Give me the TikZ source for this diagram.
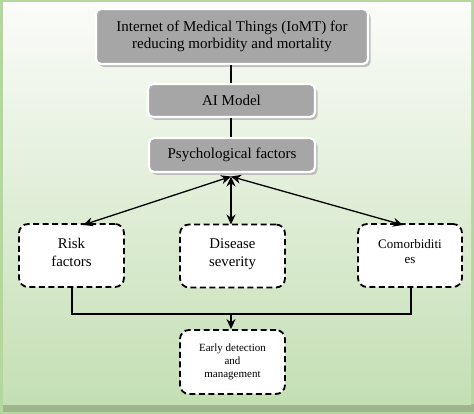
\documentclass[tikz,border=0pt]{standalone}
\usepackage{fontspec}
\setmainfont{Liberation Serif}
\usetikzlibrary{arrows.meta,shadows}
\definecolor{bordergreen}{HTML}{B4D79E}
\definecolor{paneltop}{HTML}{FBFCF9}
\definecolor{panelbot}{HTML}{C4DFB4}
\definecolor{shadowgreen}{HTML}{9DB48C}
\definecolor{boxgray}{HTML}{A6A6A6}
\definecolor{boxshadow}{HTML}{BDBDBD}
\tikzset{
  graybox/.style={draw=white, line width=2.2pt, fill=boxgray, rounded corners=5pt,
    align=center, font=\fontsize{15}{17}\selectfont, inner sep=0pt,
    drop shadow={shadow xshift=2.5pt, shadow yshift=-3pt, fill=boxshadow, opacity=1}},
  dashbox/.style={draw=black, line width=1.8pt, dash pattern=on 6pt off 3.5pt, fill=white,
    rounded corners=9pt, align=center, inner sep=0pt},
  link/.style={line width=1.3pt, draw=black},
  tip/.style={-{Stealth[length=10pt,width=9pt]}},
  dtip/.style={{Stealth[length=10pt,width=9pt]}-{Stealth[length=10pt,width=9pt]}}
}
\begin{document}
\begin{tikzpicture}[x=1pt,y=-1pt]
\useasboundingbox (0,0) rectangle (474,414);
% background
\fill[bordergreen] (0,0) rectangle (474,414);
\fill[shadowgreen] (3,404) rectangle (474,412);
\shade[top color=paneltop, bottom color=panelbot] (3,3) rectangle (471,404);
% gray boxes
\node[graybox, minimum width=272pt, minimum height=55pt] (iomt) at (232,36.5)
  {Internet of Medical Things (IoMT) for\\reducing morbidity and mortality};
\node[graybox, minimum width=167pt, minimum height=33pt] (ai) at (231.5,100.5) {AI Model};
\node[graybox, minimum width=166pt, minimum height=34pt] (psy) at (232,155) {Psychological factors};
% dashed boxes
\node[dashbox, minimum width=105pt, minimum height=63pt, font=\fontsize{14.8}{18}\selectfont] (risk) at (71.5,255.5) {Risk\\factors\\[-12pt]};
\node[dashbox, minimum width=105pt, minimum height=63pt, font=\fontsize{14.8}{18}\selectfont] (dis) at (232.5,256) {Disease\\severity\\[-12pt]};
\node[dashbox, minimum width=104pt, minimum height=63pt, font=\fontsize{13}{15}\selectfont] (com) at (410,255.5) {Comorbiditi\\es\\[-6pt]};
\node[dashbox, minimum width=105pt, minimum height=64pt, font=\fontsize{11}{12.8}\selectfont] (early) at (232.5,362) {Early detection\\and\\management};
% connectors
\coordinate (hub) at (231,176.5);
\draw[link] (iomt.south -| 231,0) -- (ai.north -| 231,0);
\draw[link] (ai.south -| 231,0) -- (psy.north -| 231,0);
\draw[link, dtip] (hub) -- (83,225);
\draw[link, dtip] (hub) -- (231,224.5);
\draw[link, dtip] (hub) -- (403,225);
\coordinate (j) at (231,314);
\draw[link] (risk.south -| 72,0) |- (j) -| (com.south -| 411,0);
\draw[link, tip] (j) -- (early.north -| 231,0);
\end{tikzpicture}
\end{document}
